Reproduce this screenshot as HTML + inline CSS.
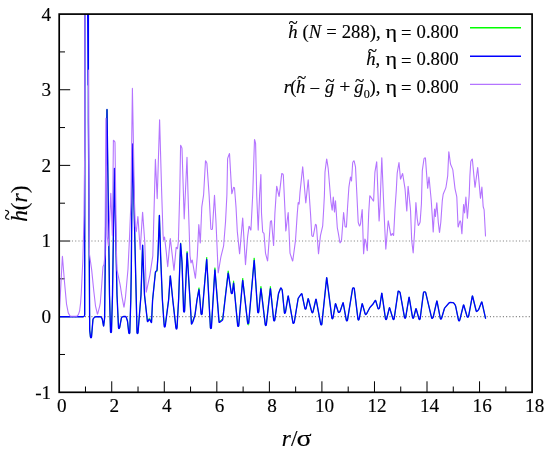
<!DOCTYPE html>
<html><head><meta charset="utf-8"><title>plot</title>
<style>
html,body{margin:0;padding:0;background:#fff;}
svg{display:block;}
text{font-family:"Liberation Serif","DejaVu Serif",serif;fill:#000;stroke:#000;stroke-width:0.14px;}
.i{font-style:italic;}
</style></head><body>
<svg width="550" height="452" viewBox="0 0 550 452">
<rect x="0" y="0" width="550" height="452" fill="#fff"/>
<defs><clipPath id="c"><rect x="59.2" y="14.1" width="472.9" height="378.2"/></clipPath></defs>
<g stroke="#858585" stroke-width="1.2" stroke-dasharray="1.1,2.14" fill="none">
<line x1="71.93" y1="316.66" x2="532.1" y2="316.66"/>
<line x1="71.93" y1="241.02" x2="532.1" y2="241.02"/>
</g>
<g stroke="#000" stroke-width="1.0" fill="none">
<line x1="85.47" y1="392.3" x2="85.47" y2="386.5"/><line x1="111.74" y1="392.3" x2="111.74" y2="381.3"/><line x1="138.02" y1="392.3" x2="138.02" y2="386.5"/><line x1="164.29" y1="392.3" x2="164.29" y2="381.3"/><line x1="190.56" y1="392.3" x2="190.56" y2="386.5"/><line x1="216.83" y1="392.3" x2="216.83" y2="381.3"/><line x1="243.11" y1="392.3" x2="243.11" y2="386.5"/><line x1="269.38" y1="392.3" x2="269.38" y2="381.3"/><line x1="295.65" y1="392.3" x2="295.65" y2="386.5"/><line x1="321.92" y1="392.3" x2="321.92" y2="381.3"/><line x1="348.19" y1="392.3" x2="348.19" y2="386.5"/><line x1="374.47" y1="392.3" x2="374.47" y2="381.3"/><line x1="400.74" y1="392.3" x2="400.74" y2="386.5"/><line x1="427.01" y1="392.3" x2="427.01" y2="381.3"/><line x1="453.28" y1="392.3" x2="453.28" y2="386.5"/><line x1="479.56" y1="392.3" x2="479.56" y2="381.3"/><line x1="505.83" y1="392.3" x2="505.83" y2="386.5"/><line x1="59.2" y1="354.48" x2="65.0" y2="354.48"/><line x1="59.2" y1="316.66" x2="70.2" y2="316.66"/><line x1="59.2" y1="278.84" x2="65.0" y2="278.84"/><line x1="59.2" y1="241.02" x2="70.2" y2="241.02"/><line x1="59.2" y1="203.20" x2="65.0" y2="203.20"/><line x1="59.2" y1="165.38" x2="70.2" y2="165.38"/><line x1="59.2" y1="127.56" x2="65.0" y2="127.56"/><line x1="59.2" y1="89.74" x2="70.2" y2="89.74"/><line x1="59.2" y1="51.92" x2="65.0" y2="51.92"/>
</g>
<g clip-path="url(#c)" fill="none" stroke-linejoin="round" stroke-linecap="round">
<path d="M59.2,316.7L83.20,316.70Q84.00,316.70 84.30,315.96L84.40,315.74Q84.70,315.00 84.70,314.20L84.90,-299.20Q84.90,-300.00 85.70,-300.00L87.60,-300.00Q88.40,-300.00 88.40,-299.20L88.40,119.20Q88.40,120.00 88.40,120.80L89.70,329.20Q89.70,330.00 89.79,330.80L90.46,337.00Q90.55,337.80 90.95,337.80L91.05,337.80Q91.45,337.80 91.52,337.00L92.93,319.80Q93.00,319.00 93.51,318.39L93.99,317.81Q94.50,317.20 95.17,316.97L95.33,316.93Q96.00,316.70 96.80,316.70L100.20,316.70Q101.00,316.70 101.39,317.40L101.91,318.30Q102.30,319.00 102.44,319.79L103.46,325.71Q103.60,326.50 103.69,325.71L104.51,318.79Q104.60,318.00 104.61,317.20L106.99,109.80Q107.00,109.00 107.01,109.80L109.49,294.20Q109.50,295.00 109.52,295.80L110.53,331.70Q110.55,332.50 110.95,332.50L111.05,332.50Q111.45,332.50 111.47,331.70L112.48,295.80Q112.50,295.00 112.51,294.20L114.39,168.80Q114.40,168.00 114.42,168.80L116.98,294.20Q117.00,295.00 117.04,295.80L118.51,327.70Q118.55,328.50 118.95,328.50L119.05,328.50Q119.45,328.50 119.60,327.71L121.35,318.29Q121.50,317.50 122.17,317.06L122.33,316.94Q123.00,316.50 123.80,316.50L125.20,316.50Q126.00,316.50 126.25,317.26L127.25,320.24Q127.50,321.00 127.59,321.80L128.76,332.70Q128.85,333.50 129.26,333.50L129.34,333.50Q129.75,333.50 129.78,332.70L130.77,300.80Q130.80,300.00 130.81,299.20L131.29,270.80Q131.30,270.00 131.31,269.20L131.89,200.80Q131.90,200.00 131.91,199.20L132.59,144.40Q132.60,143.60 132.62,144.40L137.03,332.70Q137.05,333.50 137.46,333.50L137.54,333.50Q137.95,333.50 138.01,332.70L140.94,295.80Q141.00,295.00 141.03,294.20L142.57,245.50Q142.60,244.70 142.63,245.50L144.47,294.20Q144.50,295.00 144.59,295.80L147.41,321.20Q147.50,322.00 147.82,321.27L149.18,318.23Q149.50,317.50 149.77,318.25L151.23,322.25Q151.50,323.00 151.54,322.20L152.56,300.80Q152.60,300.00 152.68,299.20L155.42,272.30Q155.50,271.50 156.18,271.77L156.32,271.83Q157.00,272.10 157.05,271.30L157.95,255.80Q158.00,255.00 158.03,254.20L159.37,215.80Q159.40,215.00 159.42,215.80L160.58,254.20Q160.60,255.00 160.63,255.80L162.37,299.20Q162.40,300.00 162.46,300.80L164.19,324.60Q164.25,325.40 164.66,325.40L164.74,325.40Q165.15,325.40 165.26,324.61L168.49,300.79Q168.60,300.00 168.66,299.20L170.24,276.30Q170.30,275.50 170.38,276.30L172.72,299.20Q172.80,300.00 172.89,300.79L175.96,327.41Q176.05,328.20 176.46,328.20L176.54,328.20Q176.95,328.20 177.00,327.40L178.55,300.80Q178.60,300.00 178.63,299.20L180.57,243.30Q180.60,242.50 180.66,243.30L181.94,261.20Q182.00,262.00 182.03,262.80L183.62,311.20Q183.65,312.00 184.06,312.00L184.14,312.00Q184.55,312.00 184.58,311.20L187.07,251.80Q187.10,251.00 187.15,251.80L189.95,299.20Q190.00,300.00 190.05,300.80L191.45,323.70Q191.50,324.50 191.74,323.74L192.76,320.46Q193.00,319.70 193.31,318.96L194.69,315.74Q195.00,315.00 195.11,314.21L196.89,300.79Q197.00,300.00 197.12,299.21L198.88,288.09Q199.00,287.30 199.06,288.10L201.09,313.70Q201.15,314.50 201.56,314.50L201.64,314.50Q202.05,314.50 202.11,313.70L206.64,257.60Q206.70,256.80 206.74,257.60L210.41,327.70Q210.45,328.50 210.86,328.50L210.94,328.50Q211.35,328.50 211.40,327.70L214.85,268.10Q214.90,267.30 214.96,268.10L219.04,321.10Q219.10,321.90 219.68,321.35L222.12,319.05Q222.70,318.50 222.79,317.71L228.11,271.19Q228.20,270.40 228.31,271.19L231.24,292.81Q231.35,293.60 231.76,293.60L231.84,293.60Q232.25,293.60 232.33,292.80L233.52,281.20Q233.60,280.40 233.67,281.20L237.68,325.60Q237.75,326.40 238.16,326.40L238.24,326.40Q238.65,326.40 238.72,325.60L242.63,278.50Q242.70,277.70 242.78,278.50L247.67,324.30Q247.75,325.10 248.16,325.10L248.24,325.10Q248.65,325.10 248.72,324.30L254.13,258.30Q254.20,257.50 254.25,258.30L257.70,311.90Q257.75,312.70 258.15,312.70L258.25,312.70Q258.65,312.70 258.72,311.90L260.83,286.70Q260.90,285.90 260.99,286.69L265.26,324.71Q265.35,325.50 265.75,325.50L265.85,325.50Q266.25,325.50 266.33,324.70L270.32,286.70Q270.40,285.90 270.48,286.70L273.67,320.10Q273.75,320.90 274.15,320.90L274.25,320.90Q274.65,320.90 274.76,320.11L278.39,294.39Q278.50,293.60 278.80,292.86L280.60,288.34Q280.90,287.60 281.28,288.30L281.82,289.30Q282.20,290.00 282.28,290.80L284.42,312.80Q284.50,313.60 284.90,313.19L285.00,313.11Q285.40,312.70 285.53,311.91L288.07,296.29Q288.20,295.50 288.34,296.29L292.96,322.81Q293.10,323.60 293.60,323.19L293.70,323.11Q294.20,322.70 294.33,321.91L298.07,298.99Q298.20,298.20 298.67,297.56L301.33,293.94Q301.80,293.30 301.96,294.08L304.89,308.32Q305.05,309.10 305.45,309.10L305.55,309.10Q305.95,309.10 306.11,308.32L308.04,298.98Q308.20,298.20 308.40,298.97L311.75,311.93Q311.95,312.70 312.35,312.70L312.44,312.70Q312.85,312.70 313.03,311.92L315.82,299.48Q316.00,298.70 316.15,299.49L320.70,324.11Q320.85,324.90 321.25,324.90L321.35,324.90Q321.75,324.90 321.83,324.10L326.62,278.10Q326.70,277.30 326.80,278.09L331.85,317.91Q331.95,318.70 332.35,318.70L332.44,318.70Q332.85,318.70 332.99,317.91L335.36,304.09Q335.50,303.30 335.74,304.06L338.26,311.94Q338.50,312.70 339.18,312.30L339.32,312.20Q340.00,311.80 340.25,311.04L342.85,303.16Q343.10,302.40 343.24,303.19L346.31,320.11Q346.45,320.90 346.85,320.90L346.94,320.90Q347.35,320.90 347.48,320.11L352.57,288.59Q352.70,287.80 353.38,287.80L353.52,287.80Q354.20,287.80 354.29,288.59L357.96,319.21Q358.05,320.00 358.45,320.00L358.55,320.00Q358.95,320.00 359.10,319.21L362.05,304.09Q362.20,303.30 362.42,304.07L365.13,313.73Q365.35,314.50 365.75,314.50L365.85,314.50Q366.25,314.50 366.62,313.79L369.63,308.01Q370.00,307.30 370.56,306.72L372.14,305.08Q372.70,304.50 373.12,303.82L375.08,300.68Q375.50,300.00 375.73,300.77L377.97,308.33Q378.20,309.10 378.78,308.69L378.92,308.61Q379.50,308.20 379.62,307.41L381.68,293.49Q381.80,292.70 381.91,293.49L385.44,318.71Q385.55,319.50 385.95,319.50L386.05,319.50Q386.45,319.50 386.64,318.72L389.31,308.08Q389.50,307.30 389.73,308.07L392.92,318.73Q393.15,319.50 393.56,319.50L393.65,319.50Q394.05,319.50 394.16,318.71L398.09,291.69Q398.20,290.90 398.88,291.32L399.32,291.58Q400.00,292.00 400.14,292.79L404.51,317.41Q404.65,318.20 405.06,318.20L405.15,318.20Q405.55,318.20 405.68,317.41L408.97,297.69Q409.10,296.90 409.23,297.69L412.52,317.41Q412.65,318.20 413.06,318.20L413.15,318.20Q413.55,318.20 413.74,317.42L415.81,308.98Q416.00,308.20 416.21,308.97L418.94,318.73Q419.15,319.50 419.56,319.50L419.65,319.50Q420.05,319.50 420.15,318.71L423.50,292.59Q423.60,291.80 424.40,291.80L424.70,291.80Q425.50,291.80 425.68,292.58L431.62,317.92Q431.80,318.70 432.38,318.20L432.52,318.10Q433.10,317.60 433.27,316.82L436.73,301.28Q436.90,300.50 437.05,301.29L440.30,318.31Q440.45,319.10 440.85,319.10L440.94,319.10Q441.35,319.10 441.57,318.33L444.28,308.97Q444.50,308.20 445.02,307.59L448.98,303.01Q449.50,302.40 450.30,302.46L452.80,302.64Q453.60,302.70 454.05,303.36L455.05,304.84Q455.50,305.50 455.66,306.28L458.49,320.12Q458.65,320.90 459.06,320.90L459.15,320.90Q459.55,320.90 459.74,320.12L463.41,305.28Q463.60,304.50 463.82,305.27L467.08,316.53Q467.30,317.30 467.84,317.12L467.96,317.08Q468.50,316.90 468.64,316.11L472.26,296.29Q472.40,295.50 472.59,296.28L476.21,311.02Q476.40,311.80 477.01,311.28L477.89,310.52Q478.50,310.00 478.79,309.25L481.51,302.25Q481.80,301.50 481.97,302.28L485.5,318.2" stroke="#00ff00" stroke-width="0.9"/>
<path d="M59.2,316.7L83.20,316.70Q84.00,316.70 84.30,315.96L84.40,315.74Q84.70,315.00 84.70,314.20L84.90,-299.20Q84.90,-300.00 85.70,-300.00L87.60,-300.00Q88.40,-300.00 88.40,-299.20L88.40,119.20Q88.40,120.00 88.40,120.80L89.70,329.20Q89.70,330.00 89.79,330.80L90.46,337.00Q90.55,337.80 90.95,337.80L91.05,337.80Q91.45,337.80 91.52,337.00L92.93,319.80Q93.00,319.00 93.51,318.39L93.99,317.81Q94.50,317.20 95.17,316.97L95.33,316.93Q96.00,316.70 96.80,316.70L100.20,316.70Q101.00,316.70 101.39,317.40L101.91,318.30Q102.30,319.00 102.44,319.79L103.46,325.71Q103.60,326.50 103.69,325.71L104.51,318.79Q104.60,318.00 104.61,317.20L106.99,109.80Q107.00,109.00 107.01,109.80L109.49,294.20Q109.50,295.00 109.52,295.80L110.53,331.70Q110.55,332.50 110.95,332.50L111.05,332.50Q111.45,332.50 111.47,331.70L112.48,295.80Q112.50,295.00 112.51,294.20L114.39,168.80Q114.40,168.00 114.42,168.80L116.98,294.20Q117.00,295.00 117.04,295.80L118.51,327.70Q118.55,328.50 118.95,328.50L119.05,328.50Q119.45,328.50 119.60,327.71L121.35,318.29Q121.50,317.50 122.17,317.06L122.33,316.94Q123.00,316.50 123.80,316.50L125.20,316.50Q126.00,316.50 126.25,317.26L127.25,320.24Q127.50,321.00 127.59,321.80L128.76,332.70Q128.85,333.50 129.26,333.50L129.34,333.50Q129.75,333.50 129.78,332.70L130.77,300.80Q130.80,300.00 130.81,299.20L131.29,270.80Q131.30,270.00 131.31,269.20L131.89,200.80Q131.90,200.00 131.91,199.20L132.59,144.40Q132.60,143.60 132.62,144.40L137.03,332.70Q137.05,333.50 137.46,333.50L137.54,333.50Q137.95,333.50 138.01,332.70L140.94,295.80Q141.00,295.00 141.03,294.20L142.57,245.50Q142.60,244.70 142.63,245.50L144.47,294.20Q144.50,295.00 144.59,295.80L147.41,321.20Q147.50,322.00 147.94,321.33L149.06,319.67Q149.50,319.00 149.86,319.72L151.14,322.28Q151.50,323.00 151.54,322.20L152.56,300.80Q152.60,300.00 152.68,299.20L155.42,272.30Q155.50,271.50 156.17,271.06L156.33,270.94Q157.00,270.50 157.05,269.70L157.95,255.80Q158.00,255.00 158.03,254.20L159.37,215.80Q159.40,215.00 159.42,215.80L160.58,254.20Q160.60,255.00 160.63,255.80L162.37,299.20Q162.40,300.00 162.45,300.80L164.20,326.20Q164.25,327.00 164.66,327.00L164.74,327.00Q165.15,327.00 165.25,326.21L168.50,300.79Q168.60,300.00 168.66,299.20L170.24,276.30Q170.30,275.50 170.38,276.30L172.72,299.20Q172.80,300.00 172.89,300.80L175.96,328.20Q176.05,329.00 176.46,329.00L176.54,329.00Q176.95,329.00 177.00,328.20L178.55,300.80Q178.60,300.00 178.63,299.20L180.57,244.10Q180.60,243.30 180.66,244.10L181.94,261.20Q182.00,262.00 182.03,262.80L183.62,311.20Q183.65,312.00 184.06,312.00L184.14,312.00Q184.55,312.00 184.58,311.20L187.07,253.60Q187.10,252.80 187.15,253.60L189.95,299.20Q190.00,300.00 190.05,300.80L191.45,323.70Q191.50,324.50 191.86,323.78L192.64,322.22Q193.00,321.50 193.24,320.74L194.76,315.76Q195.00,315.00 195.11,314.21L196.89,300.79Q197.00,300.00 197.15,299.21L198.85,290.09Q199.00,289.30 199.07,290.10L201.08,313.70Q201.15,314.50 201.56,314.50L201.64,314.50Q202.05,314.50 202.12,313.70L206.63,259.90Q206.70,259.10 206.74,259.90L210.41,327.70Q210.45,328.50 210.86,328.50L210.94,328.50Q211.35,328.50 211.40,327.70L214.85,270.40Q214.90,269.60 214.96,270.40L219.04,321.90Q219.10,322.70 219.74,322.22L222.06,320.48Q222.70,320.00 222.79,319.21L228.11,273.49Q228.20,272.70 228.32,273.49L231.23,292.81Q231.35,293.60 231.76,293.60L231.84,293.60Q232.25,293.60 232.35,292.81L233.50,283.49Q233.60,282.70 233.68,283.50L237.67,325.60Q237.75,326.40 238.16,326.40L238.24,326.40Q238.65,326.40 238.72,325.60L242.63,280.80Q242.70,280.00 242.79,280.79L247.66,322.81Q247.75,323.60 248.16,323.60L248.24,323.60Q248.65,323.60 248.72,322.80L254.13,260.80Q254.20,260.00 254.25,260.80L257.70,311.90Q257.75,312.70 258.15,312.70L258.25,312.70Q258.65,312.70 258.72,311.90L260.83,289.00Q260.90,288.20 260.99,288.99L265.26,324.71Q265.35,325.50 265.75,325.50L265.85,325.50Q266.25,325.50 266.34,324.70L270.31,289.00Q270.40,288.20 270.48,289.00L273.67,320.10Q273.75,320.90 274.15,320.90L274.25,320.90Q274.65,320.90 274.76,320.11L278.39,294.39Q278.50,293.60 278.80,292.86L280.60,288.34Q280.90,287.60 281.28,288.30L281.82,289.30Q282.20,290.00 282.28,290.80L284.42,312.80Q284.50,313.60 284.90,313.19L285.00,313.11Q285.40,312.70 285.53,311.91L288.07,296.29Q288.20,295.50 288.34,296.29L292.96,322.81Q293.10,323.60 293.60,323.19L293.70,323.11Q294.20,322.70 294.33,321.91L298.07,298.99Q298.20,298.20 298.67,297.56L301.33,293.94Q301.80,293.30 301.96,294.08L304.89,308.32Q305.05,309.10 305.45,309.10L305.55,309.10Q305.95,309.10 306.11,308.32L308.04,298.98Q308.20,298.20 308.40,298.97L311.75,311.93Q311.95,312.70 312.35,312.70L312.44,312.70Q312.85,312.70 313.03,311.92L315.82,299.48Q316.00,298.70 316.15,299.49L320.70,324.11Q320.85,324.90 321.25,324.90L321.35,324.90Q321.75,324.90 321.83,324.10L326.62,278.10Q326.70,277.30 326.80,278.09L331.85,317.91Q331.95,318.70 332.35,318.70L332.44,318.70Q332.85,318.70 332.99,317.91L335.36,304.09Q335.50,303.30 335.74,304.06L338.26,311.94Q338.50,312.70 339.18,312.30L339.32,312.20Q340.00,311.80 340.25,311.04L342.85,303.16Q343.10,302.40 343.24,303.19L346.31,320.11Q346.45,320.90 346.85,320.90L346.94,320.90Q347.35,320.90 347.48,320.11L352.57,288.59Q352.70,287.80 353.38,287.80L353.52,287.80Q354.20,287.80 354.29,288.59L357.96,319.21Q358.05,320.00 358.45,320.00L358.55,320.00Q358.95,320.00 359.10,319.21L362.05,304.09Q362.20,303.30 362.42,304.07L365.13,313.73Q365.35,314.50 365.75,314.50L365.85,314.50Q366.25,314.50 366.62,313.79L369.63,308.01Q370.00,307.30 370.56,306.72L372.14,305.08Q372.70,304.50 373.12,303.82L375.08,300.68Q375.50,300.00 375.73,300.77L377.97,308.33Q378.20,309.10 378.78,308.69L378.92,308.61Q379.50,308.20 379.62,307.41L381.68,293.49Q381.80,292.70 381.91,293.49L385.44,318.71Q385.55,319.50 385.95,319.50L386.05,319.50Q386.45,319.50 386.64,318.72L389.31,308.08Q389.50,307.30 389.73,308.07L392.92,318.73Q393.15,319.50 393.56,319.50L393.65,319.50Q394.05,319.50 394.16,318.71L398.09,291.69Q398.20,290.90 398.88,291.32L399.32,291.58Q400.00,292.00 400.14,292.79L404.51,317.41Q404.65,318.20 405.06,318.20L405.15,318.20Q405.55,318.20 405.68,317.41L408.97,297.69Q409.10,296.90 409.23,297.69L412.52,317.41Q412.65,318.20 413.06,318.20L413.15,318.20Q413.55,318.20 413.74,317.42L415.81,308.98Q416.00,308.20 416.21,308.97L418.94,318.73Q419.15,319.50 419.56,319.50L419.65,319.50Q420.05,319.50 420.15,318.71L423.50,292.59Q423.60,291.80 424.40,291.80L424.70,291.80Q425.50,291.80 425.68,292.58L431.62,317.92Q431.80,318.70 432.38,318.20L432.52,318.10Q433.10,317.60 433.27,316.82L436.73,301.28Q436.90,300.50 437.05,301.29L440.30,318.31Q440.45,319.10 440.85,319.10L440.94,319.10Q441.35,319.10 441.57,318.33L444.28,308.97Q444.50,308.20 445.02,307.59L448.98,303.01Q449.50,302.40 450.30,302.46L452.80,302.64Q453.60,302.70 454.05,303.36L455.05,304.84Q455.50,305.50 455.66,306.28L458.49,320.12Q458.65,320.90 459.06,320.90L459.15,320.90Q459.55,320.90 459.74,320.12L463.41,305.28Q463.60,304.50 463.82,305.27L467.08,316.53Q467.30,317.30 467.84,317.12L467.96,317.08Q468.50,316.90 468.64,316.11L472.26,296.29Q472.40,295.50 472.59,296.28L476.21,311.02Q476.40,311.80 477.01,311.28L477.89,310.52Q478.50,310.00 478.79,309.25L481.51,302.25Q481.80,301.50 481.97,302.28L485.5,318.2" stroke="#0000ff" stroke-width="1.35"/>
<path d="M87.5,0 L88.2,85" stroke="#0000ff" stroke-width="1.2"/>
<path d="M59.2,316.7L62.36,256.70Q62.40,256.00 62.46,256.70L64.44,281.30Q64.50,282.00 64.56,282.70L66.44,303.30Q66.50,304.00 66.64,304.69L68.16,312.31Q68.30,313.00 68.66,313.60L69.94,315.70Q70.30,316.30 71.00,316.30L76.10,316.30Q76.80,316.30 77.27,315.78L77.93,315.02Q78.40,314.50 78.63,313.84L79.37,311.66Q79.60,311.00 79.69,310.31L80.51,303.69Q80.60,303.00 80.65,302.30L81.25,293.70Q81.30,293.00 81.33,292.30L81.97,278.40Q82.00,277.70 82.03,277.00L82.77,261.70Q82.80,261.00 82.82,260.30L83.38,240.70Q83.40,240.00 83.42,239.30L83.98,215.70Q84.00,215.00 84.01,214.30L84.69,150.70Q84.70,150.00 84.70,149.30L85.1,-300.0" stroke="#b474ff" stroke-width="1.1"/>
<path d="M88.5,70.0L89.00,199.30Q89.00,200.00 89.01,200.70L89.49,253.90Q89.50,254.60 89.60,255.29L91.50,268.51Q91.60,269.20 91.67,269.90L93.73,290.40Q93.80,291.10 93.88,291.80L95.42,305.30Q95.50,306.00 95.66,306.68L97.34,313.82Q97.50,314.50 97.68,313.82L99.32,307.68Q99.50,307.00 99.64,306.31L100.16,303.69Q100.30,303.00 100.35,302.30L101.75,284.50Q101.80,283.80 101.85,283.10L102.95,267.00Q103.00,266.30 103.39,265.72L103.61,265.38Q104.00,264.80 104.07,264.10L104.93,255.30Q105.00,254.60 105.00,253.90L105.90,118.70Q105.90,118.00 105.91,118.70L107.19,235.30Q107.20,236.00 107.28,236.70L108.32,245.30Q108.40,246.00 108.43,245.30L110.77,193.70Q110.80,193.00 110.83,193.70L112.37,235.30Q112.40,236.00 112.41,235.30L113.39,140.70Q113.40,140.00 113.84,140.55L114.56,141.45Q115.00,142.00 115.01,142.70L116.39,249.30Q116.40,250.00 116.42,250.70L116.98,269.30Q117.00,270.00 117.15,270.68L119.85,283.32Q120.00,284.00 120.11,284.69L122.09,297.31Q122.20,298.00 122.33,298.69L123.87,306.81Q124.00,307.50 124.10,306.81L125.40,297.69Q125.50,297.00 125.56,296.30L127.94,269.70Q128.00,269.00 128.03,268.30L129.57,236.10Q129.60,235.40 129.63,234.70L130.87,203.40Q130.90,202.70 130.91,202.00L132.39,88.70Q132.40,88.00 132.41,88.70L134.49,202.00Q134.50,202.70 134.52,203.40L135.28,225.80Q135.30,226.50 135.43,227.19L136.17,231.31Q136.30,232.00 136.37,231.30L137.83,217.00Q137.90,216.30 137.95,217.00L140.15,249.30Q140.20,250.00 140.24,249.30L142.56,212.60Q142.60,211.90 142.65,212.60L144.75,241.80Q144.80,242.50 144.82,243.20L146.18,291.80Q146.20,292.50 146.34,291.82L149.76,275.68Q149.90,275.00 150.01,274.31L152.69,256.69Q152.80,256.00 152.82,255.30L154.58,190.70Q154.60,190.00 154.62,189.30L155.38,159.70Q155.40,159.00 155.43,159.70L157.17,198.30Q157.20,199.00 157.22,198.30L159.58,120.10Q159.60,119.40 159.62,120.10L161.58,189.30Q161.60,190.00 161.62,190.70L162.98,233.10Q163.00,233.80 163.05,234.50L163.45,239.70Q163.50,240.40 163.68,239.72L164.32,237.38Q164.50,236.70 164.58,237.40L166.12,250.60Q166.20,251.30 166.27,252.00L167.63,266.30Q167.70,267.00 167.76,266.30L170.24,238.90Q170.30,238.20 170.38,238.90L173.92,269.90Q174.00,270.60 174.06,269.90L176.14,247.70Q176.20,247.00 176.58,247.59L177.12,248.41Q177.50,249.00 177.58,248.30L178.32,241.70Q178.40,241.00 178.42,240.30L179.78,190.70Q179.80,190.00 179.81,189.30L180.59,145.70Q180.60,145.00 180.90,145.63L181.70,147.37Q182.00,148.00 182.02,148.70L184.18,218.50Q184.20,219.20 184.23,218.50L186.97,157.70Q187.00,157.00 187.02,157.70L187.88,189.30Q187.90,190.00 187.92,190.70L189.98,255.00Q190.00,255.70 190.09,256.39L190.91,262.61Q191.00,263.30 191.22,262.63L191.98,260.27Q192.20,259.60 192.32,260.29L195.28,277.91Q195.40,278.60 195.46,277.90L197.24,256.70Q197.30,256.00 197.33,255.30L198.77,225.00Q198.80,224.30 198.86,225.00L200.24,242.60Q200.30,243.30 200.33,242.60L201.77,207.50Q201.80,206.80 201.91,206.11L203.49,195.69Q203.60,195.00 203.64,194.30L205.46,161.20Q205.50,160.50 205.82,161.12L206.58,162.58Q206.90,163.20 206.95,163.90L209.05,194.30Q209.10,195.00 209.14,195.70L210.86,228.80Q210.90,229.50 211.58,229.50L211.72,229.50Q212.40,229.50 212.44,228.80L214.46,195.70Q214.50,195.00 214.54,195.70L215.96,221.60Q216.00,222.30 216.03,223.00L218.17,272.50Q218.20,273.20 218.31,272.51L220.79,257.49Q220.90,256.80 221.07,256.12L223.43,246.58Q223.60,245.90 223.66,245.20L225.44,223.00Q225.50,222.30 225.54,221.60L226.86,195.70Q226.90,195.00 226.91,194.30L227.59,159.30Q227.60,158.60 227.83,157.94L229.27,153.86Q229.50,153.20 229.54,153.90L231.76,193.40Q231.80,194.10 231.98,193.42L233.42,187.88Q233.60,187.20 234.00,187.47L234.09,187.53Q234.50,187.80 234.56,188.50L235.94,206.10Q236.00,206.80 236.04,207.50L237.26,230.70Q237.30,231.40 237.37,232.10L239.53,253.40Q239.60,254.10 239.66,253.40L242.64,218.40Q242.70,217.70 242.74,218.40L245.46,264.30Q245.50,265.00 245.55,264.30L247.55,237.50Q247.60,236.80 247.70,236.11L249.00,226.59Q249.10,225.90 249.36,226.55L250.64,229.85Q250.90,230.50 250.94,229.80L252.66,195.70Q252.70,195.00 252.72,194.30L254.48,139.90Q254.50,139.20 254.69,139.87L255.41,142.53Q255.60,143.20 255.61,143.90L256.69,194.30Q256.70,195.00 256.73,195.70L258.17,229.80Q258.20,230.50 258.23,229.80L259.57,195.70Q259.60,195.00 259.64,194.30L260.86,174.80Q260.90,174.10 260.91,174.80L261.49,212.30Q261.50,213.00 261.54,213.70L262.66,231.60Q262.70,232.30 263.28,232.70L263.42,232.80Q264.00,233.20 264.05,233.90L265.45,252.50Q265.50,253.20 265.67,253.88L267.43,260.72Q267.60,261.40 267.65,260.70L269.05,241.20Q269.10,240.50 269.15,239.80L270.35,222.10Q270.40,221.40 270.89,221.00L271.00,220.91Q271.50,220.50 271.56,221.20L273.54,245.20Q273.60,245.90 273.63,245.20L274.87,213.90Q274.90,213.20 274.95,212.50L276.65,186.60Q276.70,185.90 276.85,186.58L278.95,196.12Q279.10,196.80 279.18,196.10L281.72,173.90Q281.80,173.20 282.33,173.66L282.77,174.04Q283.30,174.50 283.33,175.20L285.07,212.50Q285.10,213.20 285.13,213.90L285.77,230.70Q285.80,231.40 285.89,230.71L288.11,212.99Q288.20,212.30 288.23,213.00L289.97,252.50Q290.00,253.20 290.22,253.86L292.48,260.74Q292.70,261.40 292.79,260.71L295.41,241.19Q295.50,240.50 295.55,239.80L297.25,213.90Q297.30,213.20 297.36,212.50L298.14,203.00Q298.20,202.30 298.47,202.95L298.83,203.85Q299.10,204.50 299.15,203.80L299.95,193.00Q300.00,192.30 300.07,191.60L302.63,167.20Q302.70,166.50 302.76,167.20L305.74,202.50Q305.80,203.20 305.87,202.50L308.13,180.20Q308.20,179.50 308.25,180.20L310.45,212.50Q310.50,213.20 310.54,213.90L311.76,235.20Q311.80,235.90 312.38,236.30L312.52,236.40Q313.10,236.80 313.23,236.11L315.37,224.79Q315.50,224.10 315.90,224.50L316.00,224.59Q316.40,225.00 316.45,225.70L318.45,253.40Q318.50,254.10 318.57,253.40L320.33,236.60Q320.40,235.90 320.56,235.22L322.54,226.58Q322.70,225.90 322.74,225.20L323.76,207.70Q323.80,207.00 323.83,206.30L324.37,195.70Q324.40,195.00 324.42,194.30L324.98,172.70Q325.00,172.00 325.09,171.31L326.61,159.29Q326.70,158.60 326.80,159.29L328.10,167.91Q328.20,168.60 328.26,169.30L330.84,200.70Q330.90,201.40 331.00,202.09L332.10,209.81Q332.20,210.50 332.26,209.80L333.24,197.50Q333.30,196.80 333.35,197.50L334.45,211.60Q334.50,212.30 334.56,211.60L335.44,201.20Q335.50,200.50 335.55,201.20L337.25,227.00Q337.30,227.70 337.43,228.39L338.37,233.41Q338.50,234.10 338.61,234.79L339.89,242.51Q340.00,243.20 340.34,242.59L341.16,241.11Q341.50,240.50 341.55,239.80L343.55,213.00Q343.60,212.30 343.67,213.00L345.03,226.10Q345.10,226.80 345.69,227.07L345.81,227.13Q346.40,227.40 346.44,226.70L347.56,207.20Q347.60,206.50 347.65,205.80L348.85,187.70Q348.90,187.00 349.01,186.31L350.39,177.49Q350.50,176.80 350.65,177.48L351.35,180.72Q351.50,181.40 351.54,180.70L352.66,163.00Q352.70,162.30 353.11,161.73L353.59,161.07Q354.00,160.50 354.16,161.18L355.34,166.12Q355.50,166.80 355.53,167.50L356.87,194.30Q356.90,195.00 356.93,195.70L358.17,221.60Q358.20,222.30 358.42,222.97L359.28,225.63Q359.50,226.30 359.79,225.66L360.21,224.74Q360.50,224.10 360.58,223.40L362.12,209.90Q362.20,209.20 362.22,209.90L363.58,253.40Q363.60,254.10 363.66,253.40L364.84,239.30Q364.90,238.60 365.10,239.27L365.80,241.63Q366.00,242.30 366.10,242.99L367.20,250.31Q367.30,251.00 367.33,250.30L368.67,213.90Q368.70,213.20 368.74,212.50L369.76,196.20Q369.80,195.50 370.18,196.09L373.22,200.81Q373.60,201.40 373.63,200.70L374.87,173.00Q374.90,172.30 375.01,171.61L376.59,162.09Q376.70,161.40 376.73,162.10L378.47,206.10Q378.50,206.80 378.53,207.50L379.07,220.70Q379.10,221.40 379.14,220.70L379.96,207.50Q380.00,206.80 380.03,206.10L381.77,158.10Q381.80,157.40 381.83,158.10L383.37,196.30Q383.40,197.00 383.43,197.70L384.47,221.60Q384.50,222.30 384.53,223.00L385.77,248.80Q385.80,249.50 385.86,248.80L388.14,221.20Q388.20,220.50 388.32,221.19L390.78,235.21Q390.90,235.90 391.24,235.29L392.06,233.81Q392.40,233.20 392.68,233.84L393.32,235.26Q393.60,235.90 393.64,235.20L394.96,209.70Q395.00,209.00 395.05,208.30L396.25,190.70Q396.30,190.00 396.34,189.30L397.16,173.70Q397.20,173.00 397.32,172.31L398.88,162.99Q399.00,162.30 399.06,163.00L400.44,178.80Q400.50,179.50 400.72,178.84L402.38,173.86Q402.60,173.20 402.71,173.89L404.89,187.91Q405.00,188.60 405.06,189.30L406.74,210.70Q406.80,211.40 406.84,210.70L408.06,186.60Q408.10,185.90 408.17,186.60L410.43,208.80Q410.50,209.50 410.53,210.20L411.67,239.80Q411.70,240.50 411.78,241.20L413.12,252.50Q413.20,253.20 413.24,252.50L414.56,232.10Q414.60,231.40 414.63,230.70L415.87,203.00Q415.90,202.30 415.96,203.00L417.14,217.90Q417.20,218.60 417.30,219.29L418.20,225.21Q418.30,225.90 418.61,225.27L419.79,222.93Q420.10,222.30 420.15,221.60L421.35,204.80Q421.40,204.10 421.42,203.40L422.28,171.20Q422.30,170.50 422.40,169.81L424.00,158.79Q424.10,158.10 424.69,157.92L424.81,157.88Q425.40,157.70 425.45,158.40L427.65,187.90Q427.70,188.60 427.78,187.90L428.92,177.50Q429.00,176.80 429.07,177.50L431.13,199.30Q431.20,200.00 431.25,200.70L432.25,216.10Q432.30,216.80 432.34,217.50L433.16,231.60Q433.20,232.30 433.24,231.60L434.56,209.30Q434.60,208.60 434.67,209.30L435.33,216.10Q435.40,216.80 435.47,216.10L436.73,203.10Q436.80,202.40 436.85,203.10L438.25,221.60Q438.30,222.30 438.38,223.00L439.42,232.10Q439.50,232.80 439.59,232.11L440.71,222.99Q440.80,222.30 440.85,221.60L442.25,201.20Q442.30,200.50 442.40,199.81L443.10,194.79Q443.20,194.10 443.47,193.46L445.63,188.34Q445.90,187.70 446.01,187.01L447.59,176.59Q447.70,175.90 447.73,175.20L448.77,152.10Q448.80,151.40 448.89,152.09L450.41,163.41Q450.50,164.10 450.77,164.74L452.53,168.86Q452.80,169.50 452.88,170.20L454.92,187.90Q455.00,188.60 455.15,189.28L456.65,196.12Q456.80,196.80 456.83,197.50L458.07,226.70Q458.10,227.40 458.29,226.73L459.91,221.17Q460.10,220.50 460.40,221.13L460.50,221.37Q460.80,222.00 460.86,222.70L461.84,233.40Q461.90,234.10 461.94,233.40L463.56,204.80Q463.60,204.10 463.68,204.80L464.52,212.50Q464.60,213.20 464.66,212.50L465.84,197.50Q465.90,196.80 465.95,197.50L467.35,217.90Q467.40,218.60 467.45,217.90L469.15,195.70Q469.20,195.00 469.23,194.30L469.87,176.60Q469.90,175.90 469.94,175.20L470.76,162.10Q470.80,161.40 471.13,160.78L471.97,159.22Q472.30,158.60 472.36,159.30L474.94,187.00Q475.00,187.70 475.09,187.01L477.61,167.89Q477.70,167.20 477.76,167.90L480.44,197.90Q480.50,198.60 480.58,197.90L481.82,187.50Q481.90,186.80 481.95,187.50L483.15,206.10Q483.20,206.80 483.42,207.46L483.88,208.84Q484.10,209.50 484.14,210.20L485.5,235.9" stroke="#b474ff" stroke-width="1.1"/>
</g>
<rect x="59.2" y="14.1" width="472.9" height="378.2" fill="none" stroke="#000" stroke-width="1.7"/>
<text transform="translate(61.80,412.30) scale(1.0,1)" font-size="19.2" text-anchor="middle">0</text><text transform="translate(114.34,412.30) scale(1.0,1)" font-size="19.2" text-anchor="middle">2</text><text transform="translate(166.89,412.30) scale(1.0,1)" font-size="19.2" text-anchor="middle">4</text><text transform="translate(219.43,412.30) scale(1.0,1)" font-size="19.2" text-anchor="middle">6</text><text transform="translate(271.98,412.30) scale(1.0,1)" font-size="19.2" text-anchor="middle">8</text><text transform="translate(324.52,412.30) scale(1.0,1)" font-size="19.2" text-anchor="middle">10</text><text transform="translate(377.07,412.30) scale(1.0,1)" font-size="19.2" text-anchor="middle">12</text><text transform="translate(429.61,412.30) scale(1.0,1)" font-size="19.2" text-anchor="middle">14</text><text transform="translate(482.16,412.30) scale(1.0,1)" font-size="19.2" text-anchor="middle">16</text><text transform="translate(534.70,412.30) scale(1.0,1)" font-size="19.2" text-anchor="middle">18</text>
<text transform="translate(51.20,398.70) scale(1.0,1)" font-size="19.2" text-anchor="end">-1</text><text transform="translate(51.20,323.06) scale(1.0,1)" font-size="19.2" text-anchor="end">0</text><text transform="translate(51.20,247.42) scale(1.0,1)" font-size="19.2" text-anchor="end">1</text><text transform="translate(51.20,171.78) scale(1.0,1)" font-size="19.2" text-anchor="end">2</text><text transform="translate(51.20,96.14) scale(1.0,1)" font-size="19.2" text-anchor="end">3</text><text transform="translate(51.20,20.50) scale(1.0,1)" font-size="19.2" text-anchor="end">4</text>
<text transform="translate(458.60,37.60) scale(1.015,1)" font-size="18.4" text-anchor="end">0.800</text>
<text transform="translate(401.00,38.80) scale(1.015,1)" font-size="18.4" text-anchor="start">=</text>
<text transform="translate(385.60,37.60) scale(1.2,1)" font-size="18.4" text-anchor="start">η</text>
<text transform="translate(458.60,65.40) scale(1.015,1)" font-size="18.4" text-anchor="end">0.800</text>
<text transform="translate(401.00,66.60) scale(1.015,1)" font-size="18.4" text-anchor="start">=</text>
<text transform="translate(385.60,65.40) scale(1.2,1)" font-size="18.4" text-anchor="start">η</text>
<text transform="translate(458.60,93.00) scale(1.015,1)" font-size="18.4" text-anchor="end">0.800</text>
<text transform="translate(401.00,94.20) scale(1.015,1)" font-size="18.4" text-anchor="start">=</text>
<text transform="translate(385.60,93.00) scale(1.2,1)" font-size="18.4" text-anchor="start">η</text>
<text transform="translate(380.60,37.60) scale(1.015,1)" font-size="18.4" text-anchor="end" word-spacing="0.3"><tspan class="i">h</tspan> (<tspan class="i">N</tspan> = 288),</text>
<text transform="translate(380.20,65.40) scale(1.015,1)" font-size="18.4" text-anchor="end"><tspan class="i">h</tspan>,</text>
<text transform="translate(283.70,93.00) scale(1.015,1)" font-size="18.4" text-anchor="start" class="i">r</text>
<text transform="translate(290.30,93.00) scale(1.015,1)" font-size="18.4" text-anchor="start">(</text>
<text transform="translate(296.10,93.00) scale(1.015,1)" font-size="18.4" text-anchor="start" class="i">h</text>
<text transform="translate(310.50,93.00) scale(0.94,1)" font-size="18.4" text-anchor="start">–</text>
<text transform="translate(325.00,93.00) scale(1.015,1)" font-size="18.4" text-anchor="start" class="i">g</text>
<text transform="translate(339.20,93.00) scale(1.08,1)" font-size="18.4" text-anchor="start">+</text>
<text transform="translate(354.20,93.00) scale(1.015,1)" font-size="18.4" text-anchor="start" class="i">g</text>
<text transform="translate(363.70,98.40) scale(1.015,1)" font-size="12" text-anchor="start">0</text>
<text transform="translate(369.50,93.00) scale(1.015,1)" font-size="18.4" text-anchor="start">)</text>
<text transform="translate(375.80,93.00) scale(1.015,1)" font-size="18.4" text-anchor="start">,</text>
<text transform="translate(288.60,27.60) scale(1,1)" font-size="17" text-anchor="start">~</text>
<text transform="translate(367.80,55.90) scale(1,1)" font-size="17" text-anchor="start">~</text>
<text transform="translate(297.00,83.20) scale(1,1)" font-size="17" text-anchor="start">~</text>
<text transform="translate(325.60,85.70) scale(1,1)" font-size="17" text-anchor="start">~</text>
<text transform="translate(354.90,85.70) scale(1,1)" font-size="17" text-anchor="start">~</text>
<g stroke-width="1.6" fill="none">
<line x1="470" y1="27.8" x2="521" y2="27.8" stroke="#00ff00"/>
<line x1="470" y1="56.3" x2="521" y2="56.3" stroke="#0000ff"/>
<line x1="470" y1="84.4" x2="521" y2="84.4" stroke="#b474ff" stroke-width="1.1"/>
</g>
<text x="281.8" y="445.6" font-size="23.3" class="i">r<tspan style="font-style:normal">/</tspan></text>
<text transform="translate(296.6,445.6) scale(1.2,1)" font-size="23.3">σ</text>
<text transform="translate(14.0,220.4) rotate(-90)" font-size="21">~</text>
<text transform="translate(27.2,221.8) rotate(-90)" font-size="23.3" class="i">h<tspan style="font-style:normal">(</tspan>r<tspan style="font-style:normal">)</tspan></text>
</svg>
</body></html>
